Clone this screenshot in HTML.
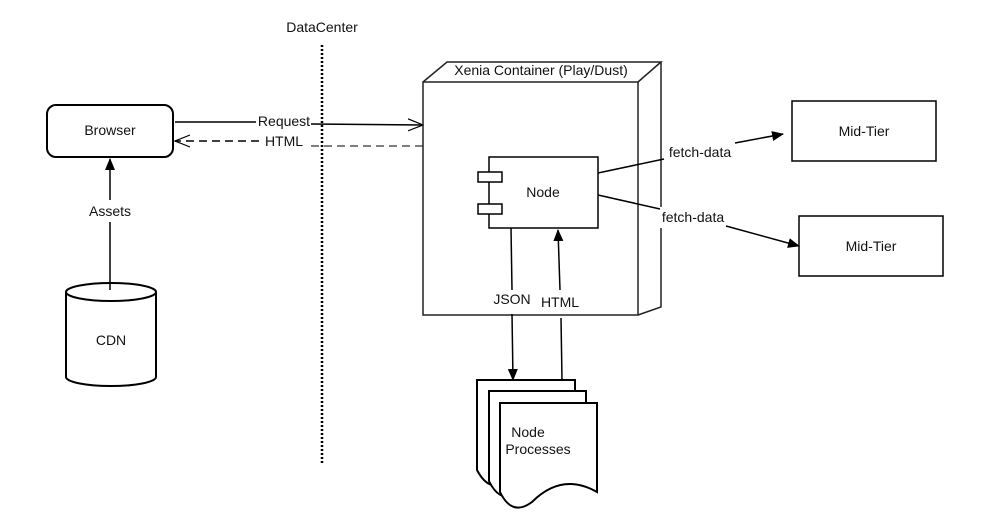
<!DOCTYPE html>
<html><head><style>
html,body{margin:0;padding:0;background:#fff;}
svg{display:block;}
text{font-family:"Liberation Sans",Arial,sans-serif;font-size:14px;fill:#111;}
</style></head><body>
<svg width="1000" height="520" viewBox="0 0 1000 520" xmlns="http://www.w3.org/2000/svg">
<defs>
<marker id="f" markerWidth="12" markerHeight="10" refX="11" refY="5" orient="auto" markerUnits="userSpaceOnUse"><path d="M0,0 L12,5 L0,10 Z" fill="#000"/></marker>
<marker id="o" markerWidth="16" markerHeight="14" refX="15" refY="7" orient="auto" markerUnits="userSpaceOnUse"><path d="M0,1 L15,7 L0,13" fill="none" stroke="#000" stroke-width="1.2"/></marker>
</defs>
<g stroke="#000" stroke-width="1.5" fill="none">
<!-- DataCenter dotted -->
<line x1="322" y1="45" x2="322" y2="463" stroke-width="2.5" stroke-dasharray="2,2"/>
<!-- Browser -->
<rect x="47" y="105" width="126" height="52" rx="9" stroke-width="2"/>
<!-- CDN -->
<path d="M66,292 L66,377 A45,9 0 0 0 156,377 L156,292" fill="#fff" stroke-width="2"/>
<ellipse cx="111" cy="292" rx="45" ry="9" fill="#fff" stroke-width="2"/>
<!-- Assets -->
<line x1="110" y1="290" x2="110" y2="222"/>
<line x1="110" y1="200" x2="110" y2="159" marker-end="url(#f)"/>
<!-- Request -->
<line x1="175" y1="122" x2="256" y2="122"/>
<line x1="311" y1="124" x2="423" y2="125" marker-end="url(#o)"/>
<!-- HTML dashed -->
<line x1="259" y1="141" x2="175" y2="141" stroke-dasharray="8,5" marker-end="url(#o)"/>
<line x1="423" y1="146" x2="308" y2="146" stroke-dasharray="8,5" stroke="#555"/>
<!-- Container -->
<rect x="423" y="82" width="215" height="233" stroke="#222"/>
<path d="M423,82 L447,62 L661,62 L638,82" stroke="#222"/>
<path d="M661,62 L661,207 M661,228 L661,307 L638,315" stroke="#222"/>
<!-- Node -->
<rect x="489" y="157" width="109" height="71"/>
<rect x="478" y="172" width="24" height="10" fill="#fff"/>
<rect x="478" y="204" width="24" height="10" fill="#fff"/>
<!-- fetch-data -->
<line x1="598" y1="173" x2="664" y2="159"/>
<line x1="735" y1="143" x2="783" y2="134" marker-end="url(#f)"/>
<line x1="598" y1="195" x2="660" y2="209"/>
<line x1="726" y1="226" x2="799" y2="246" marker-end="url(#f)"/>
<!-- Mid tiers -->
<rect x="792" y="101" width="144" height="60"/>
<rect x="799" y="216" width="144" height="60"/>
<!-- JSON / HTML -->
<line x1="511" y1="228" x2="512" y2="290"/>
<line x1="512" y1="314" x2="513" y2="380" marker-end="url(#f)"/>
<line x1="562" y1="380" x2="561" y2="318"/>
<line x1="560" y1="290" x2="558" y2="230" marker-end="url(#f)"/>
<!-- Documents -->
<path d="M477,380 L575,380 L575,470 Q540,450 510,480 Q490,495 477,470 Z" fill="#fff" stroke-width="2"/>
<path d="M489,391 L586,391 L586,481 Q551,461 521,491 Q501,506 489,481 Z" fill="#fff" stroke-width="2"/>
<path d="M500,403 L597,403 L597,492 Q562,472 532,502 Q512,517 500,492 Z" fill="#fff" stroke-width="2"/>
</g>
<text x="322" y="32" text-anchor="middle">DataCenter</text>
<text x="110" y="135" text-anchor="middle">Browser</text>
<text x="111" y="345" text-anchor="middle">CDN</text>
<text x="110" y="216" text-anchor="middle">Assets</text>
<text x="284" y="126" text-anchor="middle">Request</text>
<text x="284" y="146" text-anchor="middle">HTML</text>
<text x="541" y="75" text-anchor="middle">Xenia Container (Play/Dust)</text>
<text x="543" y="197" text-anchor="middle">Node</text>
<text x="700" y="157" text-anchor="middle">fetch-data</text>
<text x="693" y="222" text-anchor="middle">fetch-data</text>
<text x="864" y="136" text-anchor="middle">Mid-Tier</text>
<text x="871" y="251" text-anchor="middle">Mid-Tier</text>
<text x="512" y="304" text-anchor="middle">JSON</text>
<text x="560" y="307" text-anchor="middle">HTML</text>
<text x="528" y="437" text-anchor="middle">Node</text>
<text x="538" y="454" text-anchor="middle">Processes</text>
</svg>
</body></html>
